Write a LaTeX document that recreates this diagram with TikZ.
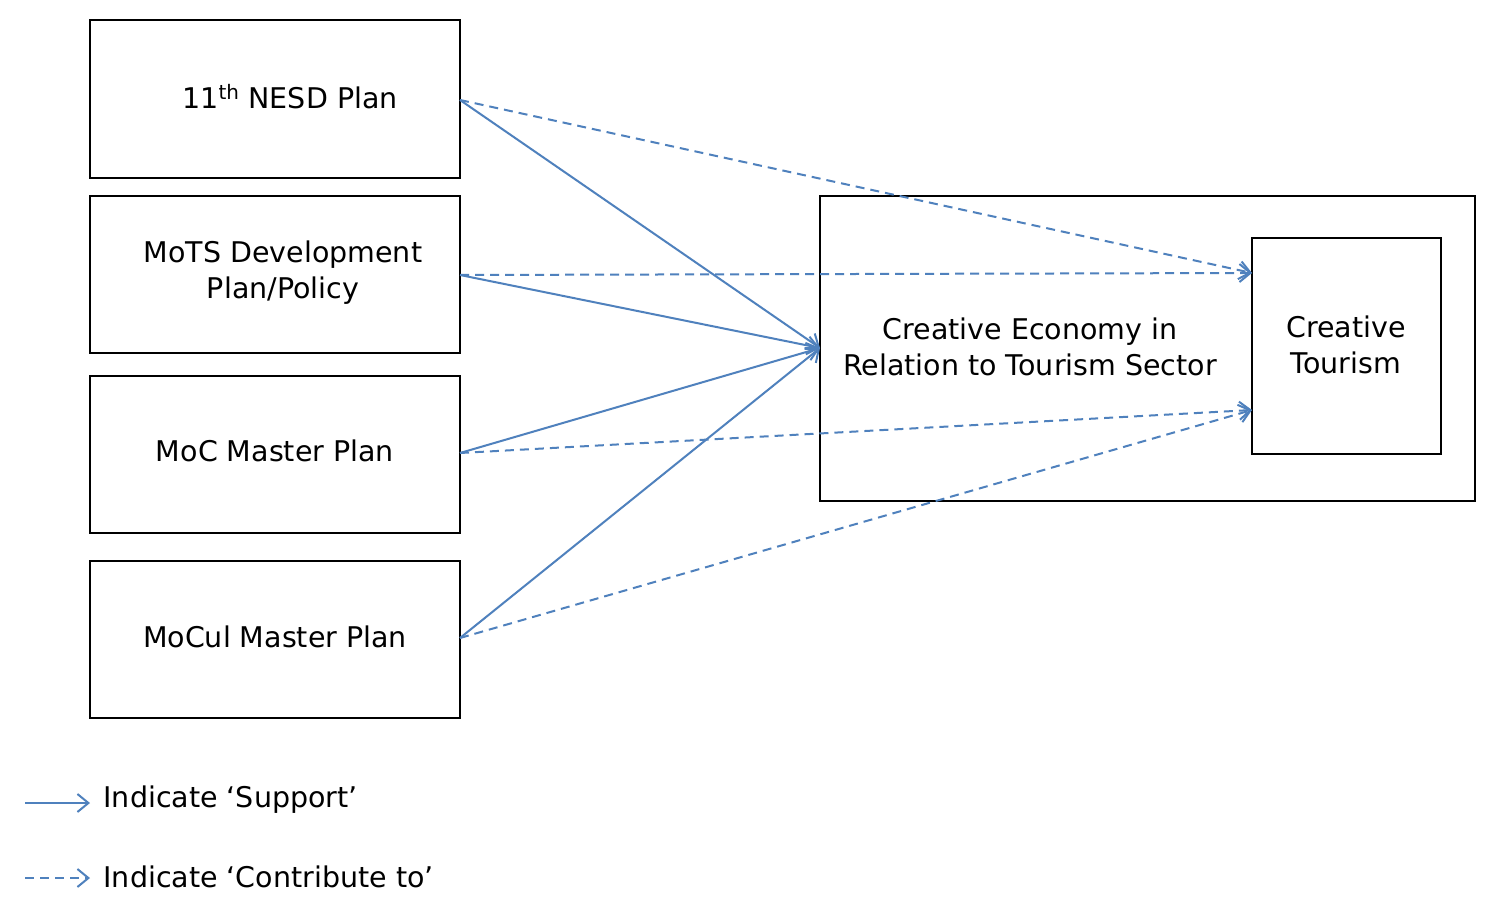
\documentclass[tikz,border=0pt]{standalone}
\usepackage{fontspec}
\setmainfont{DejaVu Sans}
\usetikzlibrary{arrows.meta}
\definecolor{ab}{RGB}{79,129,189}
\begin{document}
\begin{tikzpicture}[x=1pt,y=-1pt,
  box/.style={draw,line width=2.2pt},
  lbl/.style={font=\fontsize{28.5}{36}\selectfont,align=center},
  sup/.style={ab,line width=2pt,-{Straight Barb[length=11pt,width=18pt]}},
  con/.style={sup,dashed,dash pattern=on 9pt off 6pt}]
\fill[white] (0,0) rectangle (1485,917);
\useasboundingbox (0,0) rectangle (1485,917);
\draw[box] (90,20) rectangle (460,178);
\draw[box] (90,196) rectangle (460,353);
\draw[box] (90,376) rectangle (460,533);
\draw[box] (90,561) rectangle (460,718);
\draw[box] (820,196) rectangle (1475,501);
\draw[box] (1252,238) rectangle (1441,454);
\node[lbl] (t1) at (290,97) {11\textsuperscript{th} NESD Plan};
\node[lbl] (t2) at (283,273) {MoTS Development\\Plan/Policy};
\node[lbl] (t3) at (275,451) {MoC Master Plan};
\node[lbl] (t4) at (275,637) {MoCul Master Plan};
\node[lbl] (ce) at (1030,347) {Creative Economy in\\Relation to Tourism Sector};
\node[lbl] (ct) at (1346,345) {Creative\\Tourism};
\coordinate (a1) at (460,100); \coordinate (a2) at (460,275);
\coordinate (a3) at (460,453); \coordinate (a4) at (460,638);
\coordinate (c) at (820,348);
\coordinate (u) at (1252,273); \coordinate (d) at (1252,410);
\foreach \s in {a1,a2,a3,a4} \draw[sup] (\s) -- (c);
\draw[con] (a1) -- (u); \draw[con] (a2) -- (u);
\draw[con] (a3) -- (d); \draw[con] (a4) -- (d);
\coordinate (l1) at (25,803); \coordinate (l2) at (90,803);
\coordinate (l3) at (25,878); \coordinate (l4) at (90,878);
\draw[sup] (l1) -- (l2); \draw[con] (l3) -- (l4);
\node[lbl,anchor=west] (k1) at (100,800) {Indicate ‘Support’};
\node[lbl,anchor=west] (k2) at (100,877) {Indicate ‘Contribute to’};
\end{tikzpicture}
\end{document}
